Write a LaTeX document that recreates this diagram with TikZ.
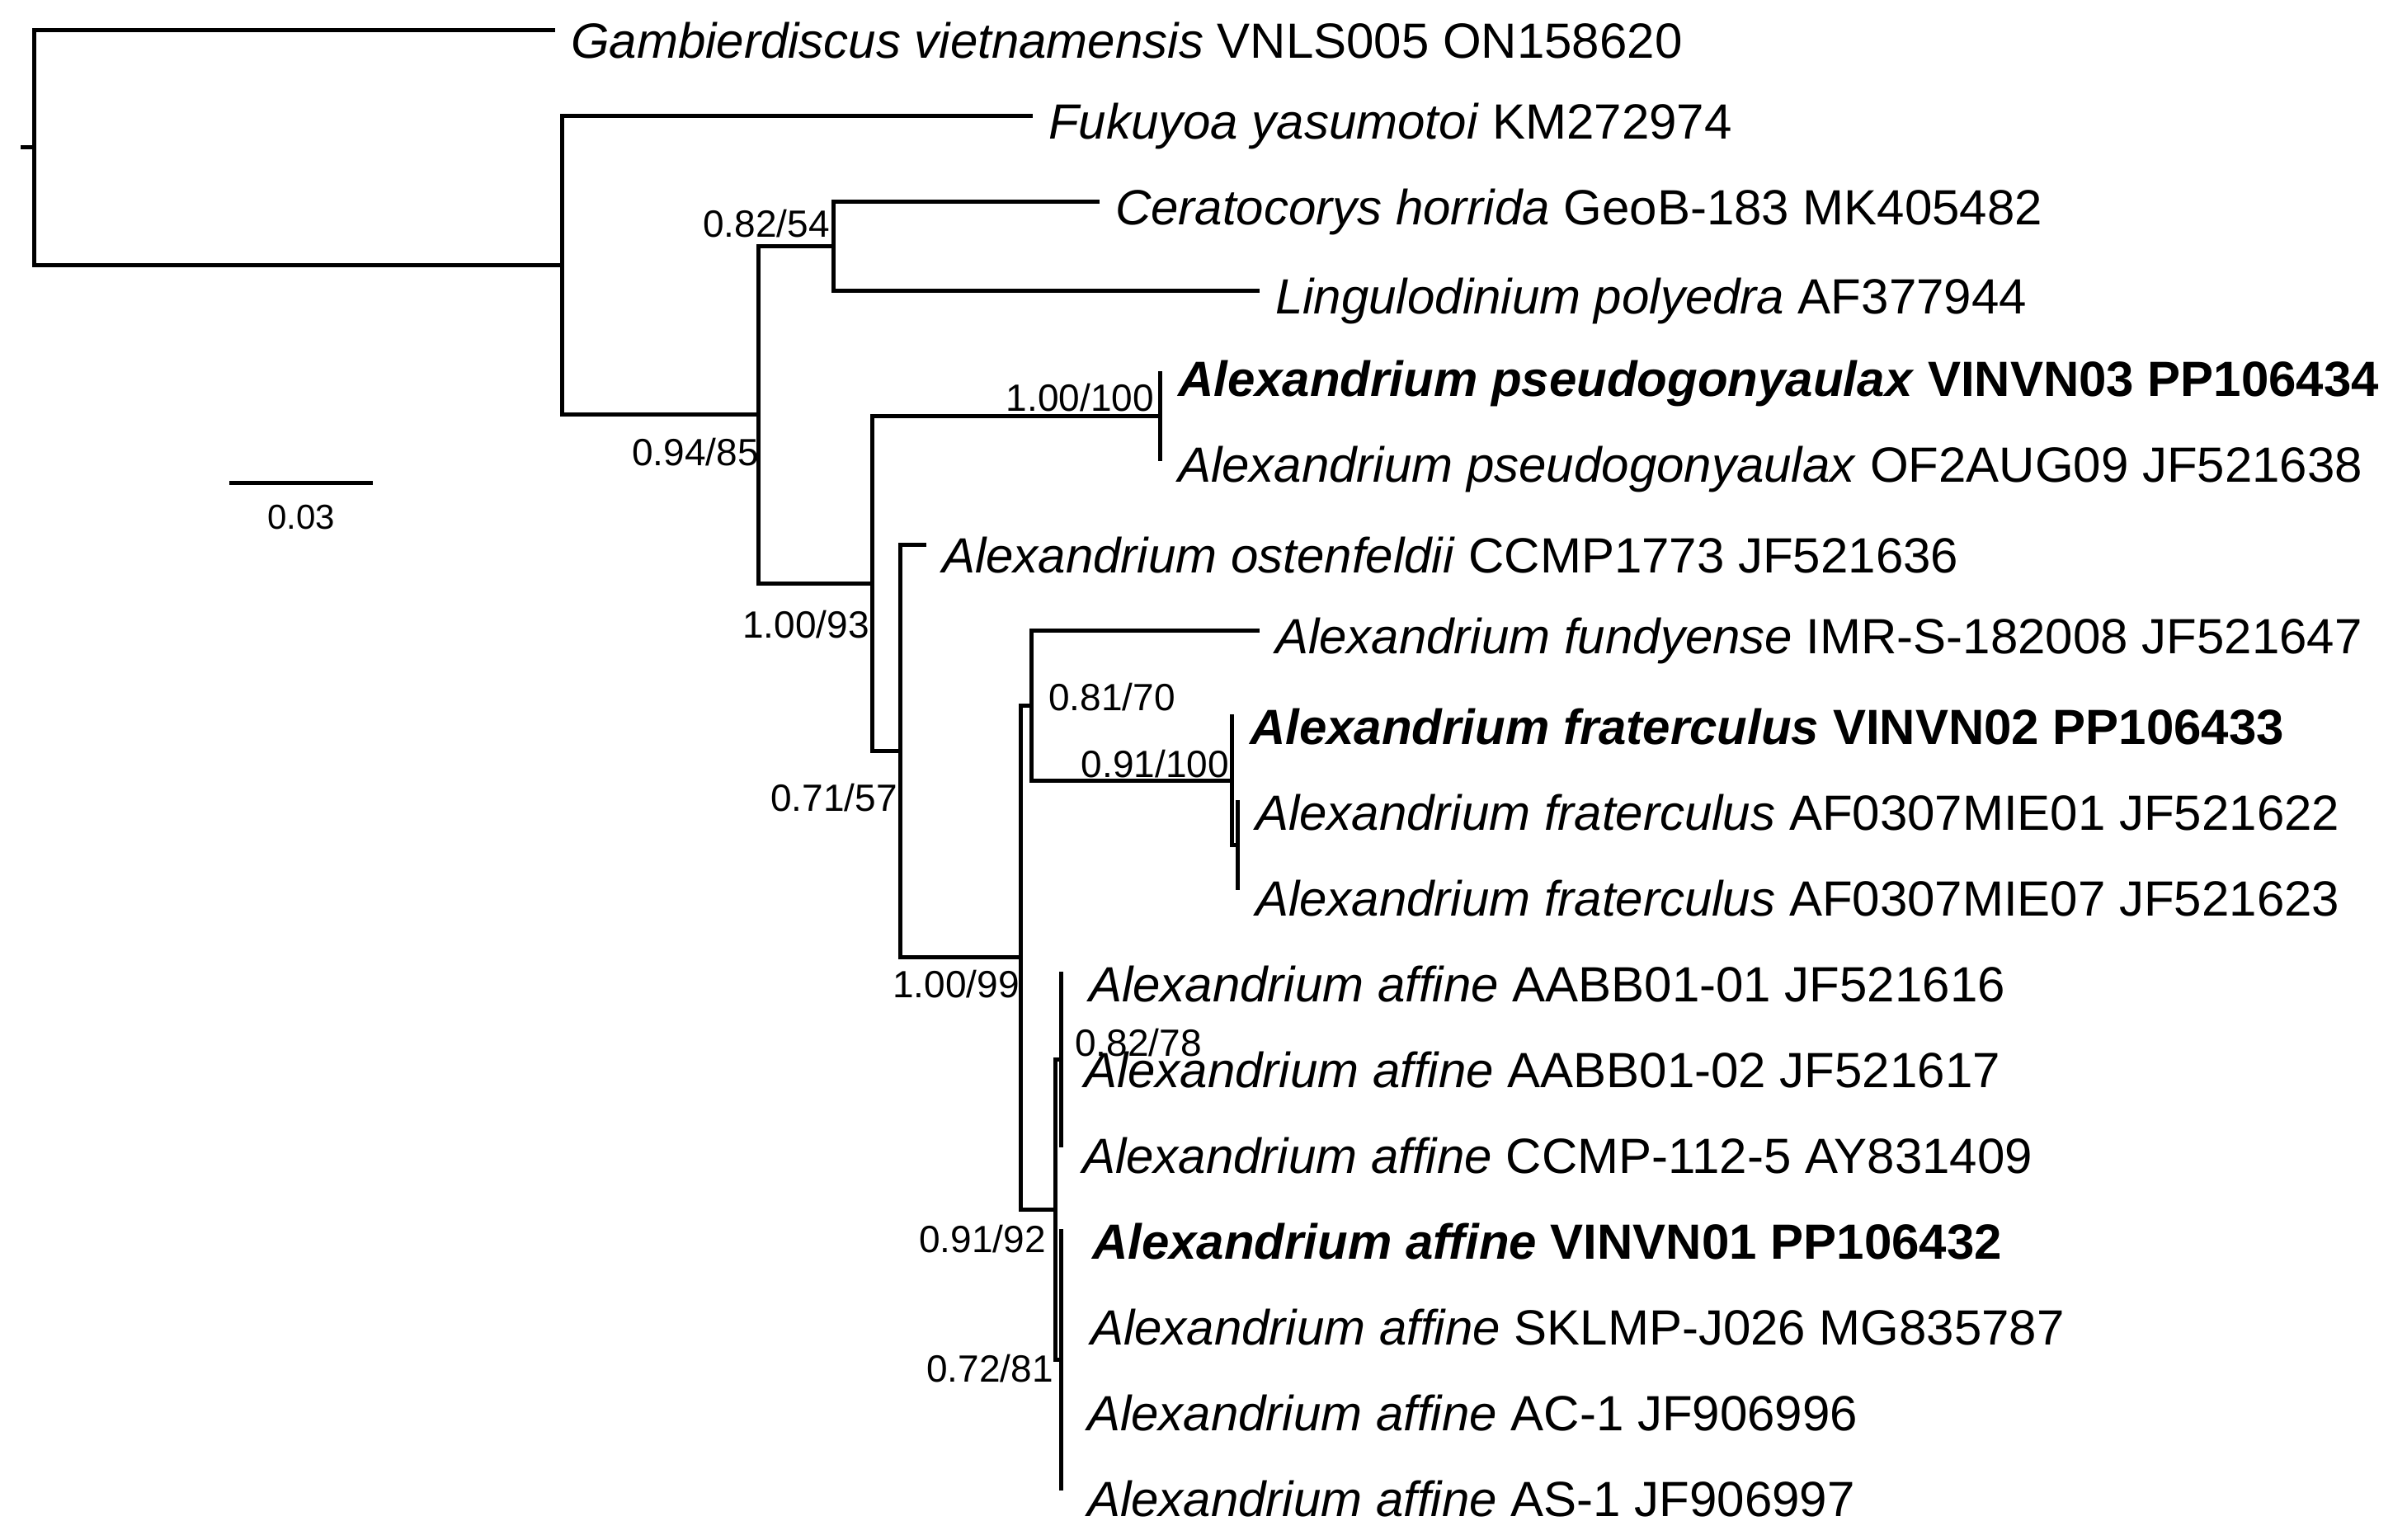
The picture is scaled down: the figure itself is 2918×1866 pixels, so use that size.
\documentclass[tikz,border=0pt]{standalone}
\usepackage{fontspec}
\setmainfont{Liberation Sans}
\begin{document}
\begin{tikzpicture}[x=1pt,y=-1pt,
  br/.style={line width=5pt,line cap=rect},
  lf/.style={anchor=west,font=\fontsize{60}{66}\selectfont,inner sep=0pt},
  sp/.style={font=\fontsize{46}{52}\selectfont,inner sep=0pt},
  bs/.style={font=\fontsize{42}{48}\selectfont,inner sep=0pt}]
\useasboundingbox (0,0) rectangle (2918,1866);
% internal nodes
\coordinate (R) at (41,178);
\coordinate (A) at (681,321);
\coordinate (B) at (919,502);
\coordinate (C) at (1010,298);
\coordinate (E) at (1057,707);
\coordinate (D) at (1406,504);
\coordinate (G) at (1091,910);
\coordinate (H) at (1237,1160);
\coordinate (I) at (1250,855);
\coordinate (J) at (1493,946);
\coordinate (K) at (1500,1024);
\coordinate (L) at (1279,1466);
\coordinate (M) at (1286,1284);
\coordinate (P) at (1286,1648);
% leaves
\coordinate (l0) at (670,36);
\coordinate (l1) at (1249,140);
\coordinate (l2) at (1330,244);
\coordinate (l3) at (1524,352);
\coordinate (l4) at (1406,452);
\coordinate (l5) at (1406,556);
\coordinate (l6) at (1120,660);
\coordinate (l7) at (1524,764);
\coordinate (l8) at (1493,868);
\coordinate (l9) at (1500,972);
\coordinate (l10) at (1500,1076);
\coordinate (l11) at (1286,1180);
\coordinate (l12) at (1286,1284);
\coordinate (l13) at (1286,1388);
\coordinate (l14) at (1286,1492);
\coordinate (l15) at (1286,1596);
\coordinate (l16) at (1286,1700);
\coordinate (l17) at (1286,1804);
% branches
\draw[br] (27,178) -- (R);
\draw[br] (l0) -| (R) |- (A);
\draw[br] (l1) -| (A) |- (B);
\draw[br] (C) |- (l2); \draw[br] (C) |- (l3); \draw[br] (B) |- (C);
\draw[br] (B) |- (E);
\draw[br] (E) |- (D); \draw[br] (E) |- (G);
\draw[br] (D) |- (l4); \draw[br] (D) |- (l5);
\draw[br] (G) |- (l6); \draw[br] (G) |- (H);
\draw[br] (H) |- (I); \draw[br] (H) |- (L);
\draw[br] (I) |- (l7); \draw[br] (I) |- (J);
\draw[br] (J) |- (l8); \draw[br] (J) |- (K);
\draw[br] (K) |- (l9); \draw[br] (K) |- (l10);
\draw[br] (L) |- (M); \draw[br] (L) |- (P);
\draw[br] (M) |- (l11); \draw[br] (M) |- (l13);
\draw[br] (P) |- (l14); \draw[br] (P) |- (l17);
% leaf labels
\node[lf] (t0) at (692,49) {\textit{Gambierdiscus vietnamensis} VNLS005 ON158620};
\node[lf] (t1) at (1271,153) {\textit{Fukuyoa yasumotoi} KM272974};
\node[lf] (t2) at (1352,257) {\textit{Ceratocorys horrida} GeoB-183 MK405482};
\node[lf] (t3) at (1546,365) {\textit{Lingulodinium polyedra} AF377944};
\node[lf] (t4) at (1428,465) {\textbf{\textit{Alexandrium pseudogonyaulax} VINVN03 PP106434}};
\node[lf] (t5) at (1428,569) {\textit{Alexandrium pseudogonyaulax} OF2AUG09 JF521638};
\node[lf] (t6) at (1142,673) {\textit{Alexandrium ostenfeldii} CCMP1773 JF521636};
\node[lf] (t7) at (1546,777) {\textit{Alexandrium fundyense} IMR-S-182008 JF521647};
\node[lf] (t8) at (1515,881) {\textbf{\textit{Alexandrium fraterculus} VINVN02 PP106433}};
\node[lf] (t9) at (1522,985) {\textit{Alexandrium fraterculus} AF0307MIE01 JF521622};
\node[lf] (t10) at (1522,1089) {\textit{Alexandrium fraterculus} AF0307MIE07 JF521623};
\node[lf] (t11) at (1320,1193) {\textit{Alexandrium affine} AABB01-01 JF521616};
\node[lf] (t12) at (1314,1297) {\textit{Alexandrium affine} AABB01-02 JF521617};
\node[lf] (t13) at (1312,1401) {\textit{Alexandrium affine} CCMP-112-5 AY831409};
\node[lf] (t14) at (1324,1505) {\textbf{\textit{Alexandrium affine} VINVN01 PP106432}};
\node[lf] (t15) at (1322,1609) {\textit{Alexandrium affine} SKLMP-J026 MG835787};
\node[lf] (t16) at (1318,1713) {\textit{Alexandrium affine} AC-1 JF906996};
\node[lf] (t17) at (1318,1817) {\textit{Alexandrium affine} AS-1 JF906997};
% support values
\node[sp,anchor=east] (s1) at (1006,271) {0.82/54};
\node[sp,anchor=east] (s2) at (920,548) {0.94/85};
\node[sp,anchor=east] (s3) at (1399,482) {1.00/100};
\node[sp,anchor=east] (s4) at (1054,757) {1.00/93};
\node[sp,anchor=west] (s5) at (1271,845) {0.81/70};
\node[sp,anchor=east] (s6) at (1490,926) {0.91/100};
\node[sp,anchor=east] (s7) at (1088,967) {0.71/57};
\node[sp,anchor=east] (s8) at (1236,1193) {1.00/99};
\node[sp,anchor=west] (s9) at (1303,1264) {0.82/78};
\node[sp,anchor=east] (s10) at (1268,1502) {0.91/92};
\node[sp,anchor=east] (s11) at (1277,1659) {0.72/81};
% scale bar
\coordinate (sb1) at (280,585); \coordinate (sb2) at (449,585);
\draw[br] (sb1) -- (sb2);
\node[bs] (sbl) at (365,627) {0.03};
\end{tikzpicture}
\end{document}
